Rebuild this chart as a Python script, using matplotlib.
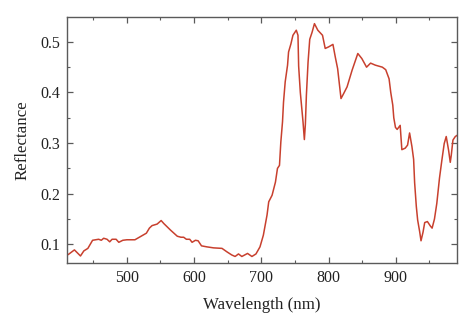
import matplotlib
matplotlib.use("Agg")
import matplotlib.pyplot as plt
from matplotlib.ticker import MultipleLocator

# Reflectance spectrum (wavelength in nm, reflectance as fraction)
wavelength = [
    411, 413, 422, 431, 436, 442, 449, 458, 462, 465.5, 470.5, 474.5, 478, 484,
    488, 494, 500, 512, 520, 529, 533.5, 537.5, 545, 551, 555, 565, 575, 580.5,
    584.5, 588.5, 593.5, 597, 602, 606, 611, 619, 629, 641.5, 649, 656, 661,
    666, 671, 679.5, 686, 692, 698, 703, 708.5, 711, 716, 721, 724, 727, 729,
    731.5, 733, 735.5, 739, 740.5, 744, 747, 752, 754.5, 755.5, 758, 760.5,
    762, 764, 765.5, 767, 769.5, 772, 775.5, 779, 784, 791, 795, 800, 806.5,
    810, 813.5, 818.5, 822.5, 827.5, 835, 843.5, 849.5, 856.5, 862.5, 869.5,
    880, 885, 890, 892.5, 895.5, 897, 899.5, 902, 906.5, 909, 914, 917.5,
    920.5, 924, 926.5, 928, 930.5, 932.5, 935.5, 937.5, 940.5, 943, 947,
    951.5, 954, 957.5, 961, 965, 968.5, 972, 975, 978.5, 981, 982.5, 985,
    988.5, 992,
]
reflectance = [
    0.079, 0.080, 0.089, 0.077, 0.087, 0.092, 0.108, 0.110, 0.108, 0.112,
    0.110, 0.105, 0.110, 0.110, 0.104, 0.108, 0.109, 0.109, 0.115, 0.122,
    0.132, 0.137, 0.140, 0.147, 0.141, 0.128, 0.116, 0.114, 0.114, 0.110,
    0.110, 0.104, 0.108, 0.107, 0.097, 0.095, 0.093, 0.092, 0.085, 0.079,
    0.076, 0.081, 0.076, 0.082, 0.076, 0.081, 0.095, 0.118, 0.158, 0.184,
    0.197, 0.223, 0.250, 0.256, 0.302, 0.342, 0.381, 0.421, 0.454, 0.480,
    0.496, 0.513, 0.523, 0.513, 0.452, 0.400, 0.364, 0.342, 0.307, 0.337,
    0.394, 0.460, 0.505, 0.519, 0.536, 0.523, 0.513, 0.487, 0.490, 0.495,
    0.470, 0.447, 0.388, 0.398, 0.411, 0.444, 0.477, 0.467, 0.450, 0.458,
    0.454, 0.450, 0.445, 0.427, 0.400, 0.375, 0.350, 0.331, 0.327, 0.335,
    0.287, 0.290, 0.296, 0.320, 0.293, 0.268, 0.222, 0.175, 0.148, 0.125,
    0.107, 0.124, 0.143, 0.145, 0.136, 0.132, 0.150, 0.181, 0.231, 0.266,
    0.299, 0.313, 0.286, 0.262, 0.276, 0.306, 0.313, 0.316,
]

x_ticks = [500, 600, 700, 800, 900]
y_ticks = [0.1, 0.2, 0.3, 0.4, 0.5]

plt.rcParams["font.family"] = ["Liberation Serif", "DejaVu Serif"]

fig = plt.figure(figsize=(4.74, 3.28), dpi=100)
ax = fig.add_axes([0.1414, 0.198, 0.8227, 0.750])

ax.plot(wavelength, reflectance, color="#c8402e", linewidth=1.1)

ax.set_xlim(411, 991)
ax.set_ylim(0.063, 0.549)
ax.set_xticks(x_ticks)
ax.set_yticks(y_ticks)
ax.set_xticklabels([str(v) for v in x_ticks])
ax.set_yticklabels([f"{v:.1f}" for v in y_ticks])
ax.xaxis.set_minor_locator(MultipleLocator(50))
ax.yaxis.set_minor_locator(MultipleLocator(0.05))

spine_color = "#5a5a5a"
for s in ax.spines.values():
    s.set_color(spine_color)
    s.set_linewidth(1.0)

ax.tick_params(which="both", direction="in", top=True, right=True,
               color=spine_color, labelsize=11.5, labelcolor="#222222")
ax.tick_params(which="major", length=4, width=0.9, pad=5)
ax.tick_params(which="minor", length=2.5, width=0.8)

ax.set_xlabel("Wavelength (nm)", fontsize=12.2, color="#222222", labelpad=8)
ax.set_ylabel("Reflectance", fontsize=12.2, color="#222222", labelpad=7)

fig.savefig("out.png", dpi=100)
